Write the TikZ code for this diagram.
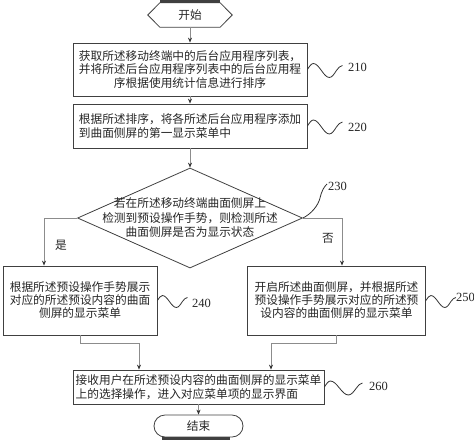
\documentclass[tikz,border=0pt]{standalone}
\usepackage{fontspec}
\setmainfont{Liberation Serif}
\newfontfamily\cjk{Noto Sans CJK SC}
\usetikzlibrary{shapes.geometric,shapes.misc,arrows.meta}
\begin{document}
\begin{tikzpicture}[x=1pt,y=-1pt,
  txt/.style={font=\cjk\fontsize{11.7}{13.4}\selectfont, text=black!85},
  box/.style={txt, draw=black!75, line width=0.8pt, rectangle, inner sep=0pt, align=center},
  conn/.style={draw=black!45, line width=0.8pt},
  arr/.style={conn, -{Stealth[length=5pt,width=4pt,black!80]}},
  wave/.style={draw=black!80, line width=0.8pt},
  lbl/.style={font=\fontsize{12.5}{14}\selectfont, text=black!85, inner sep=0pt, anchor=west},
  yn/.style={txt, inner sep=0pt}]
\useasboundingbox (0,0) rectangle (474,440);

% start
\fill[black!75] (160,0) rectangle (220,3);
\node[txt, minimum width=84, minimum height=24, inner sep=0pt] (start) at (190,15) {开始};
\draw[draw=black!75, line width=0.8pt] (start.west) -- ([xshift=12pt]start.north west) -- ([xshift=-12pt]start.north east) -- (start.east) -- ([xshift=-12pt]start.south east) -- ([xshift=12pt]start.south west) -- cycle;

% boxes
\node[box, minimum width=234, minimum height=53] (b1) at (190,69.5)
  {获取所述移动终端中的后台应用程序列表，\\并将所述后台应用程序列表中的后台应用程\\序根据使用统计信息进行排序};
\node[box, minimum width=234, minimum height=44, align=left] (b2) at (190,126)
  {根据所述排序，将各所述后台应用程序添加\\到曲面侧屏的第一显示菜单中};

\node[draw=black!75, line width=0.8pt, diamond, minimum width=225, minimum height=100, inner sep=0pt] (dia) at (190,218) {};
\node[txt, align=center, inner sep=0pt, font=\cjk\fontsize{11.7}{14.5}\selectfont] (diat) at (190,218)
  {若在所述移动终端曲面侧屏上\\检测到预设操作手势，则检测所述\\曲面侧屏是否为显示状态};

\node[box, minimum width=154, minimum height=69, font=\cjk\fontsize{11.7}{13}\selectfont] (b4) at (80,300.5)
  {根据所述预设操作手势展示\\对应的所述预设内容的曲面\\侧屏的显示菜单};
\node[box, minimum width=178, minimum height=69, font=\cjk\fontsize{11.7}{13}\selectfont] (b5) at (336.5,300.5)
  {开启所述曲面侧屏，并根据所述\\预设操作手势展示对应的所述预\\设内容的曲面侧屏的显示菜单};

\node[box, minimum width=251, minimum height=34, align=left] (b6) at (198.5,387)
  {接收用户在所述预设内容的曲面侧屏的显示菜单\\上的选择操作，进入对应菜单项的显示界面};

% end
\node[txt, draw=black!75, line width=0.8pt, rounded rectangle, minimum width=89, minimum height=22, inner sep=0pt] (end) at (198.5,426) {结束};
\fill[black!75] (162,437.4) rectangle (230,440);

% connectors
\draw[arr] (start.south) -- (b1.north);
\draw[arr] (b1.south) -- (b2.north);
\draw[arr] (b2.south) -- (dia.north);
\coordinate (yl) at (44,218);
\coordinate (yr) at (342,218);
\draw[arr] (dia.west) -- (yl) -- (yl |- b4.north);
\draw[arr] (dia.east) -- (yr) -- (yr |- b5.north);
\node[yn] (yes) at (61,245) {是};
\node[yn] (no) at (328,238) {否};
\coordinate (j1) at (139,343);
\coordinate (j2) at (271,343);
\draw[arr] (b4.south) |- (j1) -- (j1 |- b6.north);
\draw[arr] (b5.south) |- (j2) -- (j2 |- b6.north);
\draw[arr] (b6.south) -- (end.north);

% step labels
\draw[wave] (b1.east) sin ++(6,-6) cos ++(8,7) sin ++(8,7) cos ++(7,-7) sin ++(6,-5);
\node[lbl] (l210) at (348,67) {210};
\draw[wave] (b2.east) sin ++(6,-6) cos ++(8,7) sin ++(8,7) cos ++(7,-7) sin ++(6,-5);
\node[lbl] (l220) at (348,127) {220};
\draw[wave] (dia.east) .. controls (311,214) and (318,206) .. (320,198) .. controls (322,190) and (324,187) .. (327,184);
\node[lbl] (l230) at (328,186) {230};
\draw[wave] (b4.east) sin ++(5,-5) cos ++(7,6) sin ++(7,6) cos ++(6,-6) sin ++(5,-4);
\node[lbl] (l240) at (192,303) {240};
\draw[wave] (b5.east) sin ++(5,-5) cos ++(7,6) sin ++(7,6) cos ++(6,-6) sin ++(5,-4);
\node[lbl] (l250) at (456,297) {250};
\draw[wave] (b6.east) sin ++(6,-6) cos ++(9,7) sin ++(9,7) cos ++(8,-7) sin ++(6,-5);
\node[lbl] (l260) at (369,386) {260};
\end{tikzpicture}
\end{document}
